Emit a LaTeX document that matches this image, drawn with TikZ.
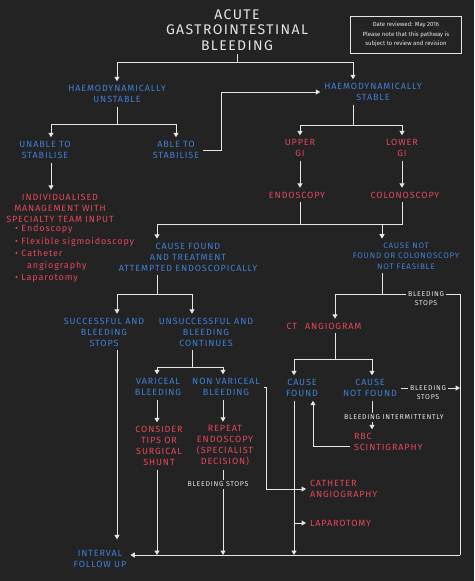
\documentclass[tikz,border=0pt]{standalone}
\usepackage{fontspec}
\setmainfont{Fira Sans}
\newfontfamily\chalkfont[LetterSpace=10]{Fira Sans}
\usetikzlibrary{arrows.meta}
\definecolor{board}{HTML}{232323}
\definecolor{chalk}{HTML}{E6E6E6}
\definecolor{chalkblue}{HTML}{3E80D8}
\definecolor{chalkred}{HTML}{E5475A}
\tikzset{
  blu/.style={text=chalkblue,font=\chalkfont\fontsize{9}{11}\selectfont,align=center,inner sep=1pt,outer sep=3pt},
  bls/.style={blu,font=\chalkfont\fontsize{8}{10.5}\selectfont},
  rd/.style={text=chalkred,font=\chalkfont\fontsize{9}{11}\selectfont,align=center,inner sep=1pt,outer sep=3pt},
  lbl/.style={text=chalk,fill=board,font=\chalkfont\fontsize{7}{9}\selectfont,align=center,inner sep=2pt},
  ln/.style={draw=chalk,line width=1pt},
  arr/.style={ln,-{Triangle[width=5pt,length=4.5pt]}},
}
\begin{document}
\begin{tikzpicture}[x=1pt,y=-1pt]
\fill[board] (0,0) rectangle (474,581);
\useasboundingbox (0,0) rectangle (474,581);
\node[text=chalk,font=\chalkfont\fontsize{14}{15.5}\selectfont,align=center,inner sep=1pt,outer sep=3pt] (title) at (237,30) {ACUTE\\GASTROINTESTINAL\\BLEEDING};
\node[draw=chalk,line width=0.8pt,text=chalk,font=\fontsize{6}{9.5}\selectfont,align=center,minimum width=111pt,minimum height=37pt] (note) at (406,34.5) {Date reviewed: May 2016\\Please note that this pathway is\\subject to review and revision};
\node[blu] (unst) at (117,94) {HAEMODYNAMICALLY\\UNSTABLE};
\node[blu] (stab) at (373,92) {HAEMODYNAMICALLY\\STABLE};
\node[blu] (unable) at (45,150) {UNABLE TO\\STABILISE};
\node[blu] (able) at (176,150) {ABLE TO\\STABILISE};
\node[rd] (indiv) at (60,208) {INDIVIDUALISED\\MANAGEMENT WITH\\SPECIALTY TEAM INPUT};
\node[text=chalkred,font=\chalkfont\fontsize{9}{12.2}\selectfont,align=left,anchor=north west,inner sep=0pt] (bullets) at (15,225) {• Endoscopy\\• Flexible sigmoidoscopy\\• Catheter\\\hspace{12pt}angiography\\• Laparotomy};
\node[rd] (upper) at (300,148) {UPPER\\GI};
\node[rd] (lower) at (402,148) {LOWER\\GI};
\node[rd] (endo) at (297,195) {ENDOSCOPY};
\node[rd] (colono) at (405,195) {COLONOSCOPY};
\node[blu] (found) at (188,257) {CAUSE FOUND\\AND TREATMENT\\ATTEMPTED ENDOSCOPICALLY};
\node[bls] (notfound) at (406,256) {CAUSE NOT\\FOUND OR COLONOSCOPY\\NOT FEASIBLE};
\node[blu] (success) at (104,332) {SUCCESSFUL AND\\BLEEDING\\STOPS};
\node[blu] (unsucc) at (206,332) {UNSUCCESSFUL AND\\BLEEDING\\CONTINUES};
\node[blu] (varic) at (158,387) {VARICEAL\\BLEEDING};
\node[blu] (nonvaric) at (226,387) {NON VARICEAL\\BLEEDING};
\node[rd] (tips) at (159,446) {CONSIDER\\TIPS OR\\SURGICAL\\SHUNT};
\node[rd] (repeat) at (225,446) {REPEAT\\ENDOSCOPY\\(SPECIALIST\\DECISION)};
\node[blu] (follow) at (100,559) {INTERVAL\\FOLLOW UP};
\node[rd] (ct) at (324,326) {CT\hspace{8pt}ANGIOGRAM};
\node[blu] (cfound) at (302,388) {CAUSE\\FOUND};
\node[blu] (cnot) at (370,388) {CAUSE\\NOT FOUND};
\node[rd,align=left,anchor=west] (rbc) at (350,442) {RBC\\SCINTIGRAPHY};
\node[rd,align=left,anchor=west] (cath) at (306,489) {CATHETER\\ANGIOGRAPHY};
\node[rd,anchor=west] (lapar) at (306,523) {LAPAROTOMY};
\coordinate (tj) at (237,62);
\coordinate (uj) at (117,124);
\coordinate (sj) at (353,125);
\coordinate (fj) at (157,294);
\coordinate (nj) at (382,294);
\coordinate (vj) at (192,367);
\coordinate (gj) at (335,359);
\coordinate (bj) at (460,555);
\draw[ln] (title.south) -- (tj);
\draw[arr] (tj) -| (unst.north);
\draw[arr] (tj) -| ([xshift=-20pt]stab.north);
\draw[ln] (unst.south) -- (uj);
\draw[arr] (uj) -| ([xshift=6pt]unable.north);
\draw[arr] (uj) -| (able.north);
\draw[ln] ([xshift=-20pt]stab.south) -- (sj);
\draw[arr] (sj) -| (upper.north);
\draw[arr] (sj) -| (lower.north);
\draw[arr] (able.east) -- ++(18,0) |- (stab.west);
\draw[arr] ([xshift=6pt]unable.south) -- ([xshift=6pt]unable.south |- indiv.north);
\draw[arr] (upper.south) -- (upper.south |- endo.north);
\draw[arr] (lower.south) -- (lower.south |- colono.north);
\draw[ln] (upper.south |- endo.south) -- ++(0,22) coordinate (ej) -| (lower.south |- colono.south);
\draw[arr] (ej) -| ([xshift=-31pt]found.north);
\draw[arr] (ej) -| ([xshift=-24pt]notfound.north);
\draw[ln] ([xshift=-31pt]found.south) -- (fj);
\draw[arr] (fj) -| ([xshift=13pt]success.north);
\draw[arr] (fj) -| ([xshift=-14pt]unsucc.north);
\draw[ln] ([xshift=-24pt]notfound.south) -- (nj);
\draw[arr] (nj) -| ([xshift=11pt]ct.north);
\draw[ln] (nj) -| (bj);
\node[lbl] (stop1) at (426,299) {BLEEDING\\STOPS};
\draw[arr] (bj) -- (bj -| follow.east);
\draw[ln] ([xshift=-14pt]unsucc.south) -- (vj);
\draw[arr] (vj) -| ([xshift=-1pt]varic.north);
\draw[arr] (vj) -| ([xshift=-3pt]nonvaric.north);
\draw[arr] ([xshift=-1pt]varic.south) -- ([xshift=-1pt]varic.south |- tips.north);
\draw[arr] ([xshift=-3pt]nonvaric.south) -- ([xshift=-3pt]nonvaric.south |- repeat.north);
\draw[arr] ([xshift=-2pt]tips.south) -- ([xshift=-2pt]tips.south |- bj);
\draw[arr] ([xshift=-2pt]repeat.south) -- ([xshift=-2pt]repeat.south |- bj);
\node[lbl] (stop2) at (218,484) {BLEEDING STOPS};
\draw[arr,shorten >=7pt] ([xshift=13pt]success.south) -- ([xshift=13pt]success.south |- follow.north);
\draw[arr] (nonvaric.east) -- ++(3,0) |- (cath.west);
\draw[ln] ([xshift=11pt]ct.south) -- (gj);
\draw[arr] (gj) -| ([xshift=-8pt]cfound.north);
\draw[arr] (gj) -| ([xshift=2pt]cnot.north);
\draw[arr] (cnot.east) -- (cnot.east -| bj);
\node[lbl] (stop3) at (428,393) {BLEEDING\\STOPS};
\draw[arr] ([xshift=2pt]cnot.south) -- ([xshift=2pt]cnot.south |- rbc.north);
\node[lbl] (intermit) at (394,417) {BLEEDING INTERMITTENTLY};
\draw[arr] ([yshift=-4pt]rbc.west) -| ([xshift=11pt]cfound.south);
\draw[arr] ([xshift=-8pt]cfound.south) -- ([xshift=-8pt]cfound.south |- bj);
\draw[arr] ([xshift=-8pt]cfound.south |- lapar.west) -- (lapar.west);
\end{tikzpicture}
\end{document}
